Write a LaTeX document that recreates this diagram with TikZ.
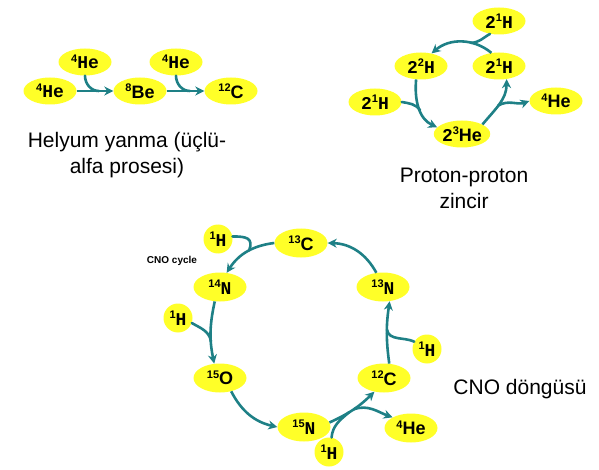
\documentclass[tikz,border=0pt]{standalone}
\usepackage{fontspec}
\setmainfont{Liberation Sans}
\newfontfamily\monofnt{Liberation Mono}
\usetikzlibrary{shapes.geometric,arrows.meta}
\definecolor{nucyellow}{RGB}{255,255,40}
\definecolor{flowteal}{RGB}{30,128,134}
% superscript mass number, then the symbol (mono or sans)
\newcommand{\nucm}[2]{{\fontsize{11}{11}\selectfont\bfseries\raisebox{6.5pt}{#1}}{\monofnt\bfseries #2}}
\newcommand{\nucs}[2]{{\fontsize{11}{11}\selectfont\bfseries\raisebox{6.5pt}{#1}}{\bfseries #2}}
\newcommand{\two}{{\monofnt\bfseries 2}}
\begin{document}
\begin{tikzpicture}[x=1pt,y=1pt,
  nuc/.style={ellipse, fill=nucyellow, minimum width=53pt, minimum height=27pt, inner sep=0pt, font=\fontsize{18}{18}\selectfont},
  cnonuc/.style={nuc, minimum height=29pt},
  prot/.style={ellipse, fill=nucyellow, minimum width=29pt, minimum height=29pt, inner sep=0pt, font=\fontsize{18}{18}\selectfont},
  flow/.style={draw=flowteal, line width=2.6pt, -{Stealth[length=9pt,width=9pt]}},
  feed/.style={draw=flowteal, line width=2.6pt, line cap=round},
  caption/.style={font=\fontsize{21}{26}\selectfont, align=center}]
\useasboundingbox (0,0) rectangle (599,469);

% helium burning
\node[nuc] (he1) at (50,378){\nucm{4}{He}};
\node[nuc] (he2) at (85,407){\nucm{4}{He}};
\node[nuc] (be8) at (140,378){\nucs{8}{Be}};
\node[nuc] (he3) at (176,407){\nucm{4}{He}};
\node[nuc] (c12a) at (231,378){\nucs{12}{C}};
\coordinate (m1) at (99,378);
\coordinate (m2) at (190,378);
\draw[flow] (he1) -- (be8);
\draw[feed] (he2.south) to[out=-90,in=180] (m1);
\draw[flow] (be8) -- (c12a);
\draw[feed] (he3.south) to[out=-90,in=180] (m2);
\node[caption] (hetxt) at (127,314){Helyum yanma (üçlü-\\alfa prosesi)};

% proton-proton chain
\node[nuc] (hT) at (499,448){\two\nucm{1}{H}};
\node[nuc] (d2) at (421,403){\two\nucm{2}{H}};
\node[nuc] (hR) at (499,403){\two\nucm{1}{H}};
\node[nuc] (hL) at (375,367){\two\nucm{1}{H}};
\node[nuc] (he3p) at (462,335){\two\nucs{3}{He}};
\node[nuc] (he4p) at (556,368){\nucs{4}{He}};
\draw[flow] (hR.120) to[bend right=40] coordinate[pos=0.35] (mT) (d2.50);
\draw[feed] (hT.-125) to[out=-150,in=0] (mT);
\draw[flow] (d2.-110) to[out=-95,in=155] coordinate[pos=0.55] (mL) (he3p.165);
\draw[feed] (hL.east) to[out=-10,in=125] (mL);
\draw[flow] (he3p.25) to[out=50,in=-90] coordinate[pos=0.45] (mR) (hR.-60);
\draw[flow] (mR) to[out=30,in=200] (he4p.west);
\node[caption] (pptxt) at (464,281){Proton-proton\\zincir};

% CNO cycle
\node[prot] (hA) at (218,230){\nucs{1}{\monofnt H}};
\node[cnonuc] (c13) at (301,226){\nucs{13}{C}};
\node[cnonuc] (n14) at (220,182){\nucm{14}{N}};
\node[cnonuc] (n13) at (383,182){\nucm{13}{N}};
\node[prot] (hB) at (178,151){\nucs{1}{\monofnt H}};
\node[cnonuc] (o15) at (220,91){\nucs{15}{O}};
\node[cnonuc] (c12) at (384,91){\nucs{12}{C}};
\node[prot] (hC) at (427,120){\nucs{1}{\monofnt H}};
\node[cnonuc] (n15) at (304,42){\nucm{15}{N}};
\node[cnonuc] (he4c) at (411,41){\nucs{4}{He}};
\node[prot] (hD) at (329,17){\nucs{1}{\monofnt H}};
\draw[flow] (n13.115) to[bend right=30] (c13.east);
\draw[flow] (c13.west) to[bend right=25] coordinate[pos=0.45] (mA) (n14.65);
\draw[feed] (hA.10) to[out=0,in=70,looseness=1.6] (mA);
\draw[flow] (n14.-110) to[bend right=12] coordinate[pos=0.65] (mB) (o15.112);
\draw[feed] (hB.-20) to[out=-30,in=100] (mB);
\draw[flow] (o15.-50) to[bend right=25] (n15.west);
\draw[flow] (n15.10) to[bend right=10] coordinate[pos=0.4] (mD) coordinate[pos=0.5] (mE) (c12.-125);
\draw[feed] (hD.80) to[out=85,in=-140] (mD);
\draw[flow] (mE) to[out=20,in=160] (he4c.150);
\draw[flow] (c12.70) to[bend left=8] coordinate[pos=0.55] (mC) (n13.-65);
\draw[feed] (hC.150) to[out=155,in=-80] (mC);
\node[font=\fontsize{10}{10}\selectfont\bfseries] (cyctxt) at (172,208){CNO cycle};
\node[caption] (cnotxt) at (520,80){CNO döngüsü};
\end{tikzpicture}
\end{document}
